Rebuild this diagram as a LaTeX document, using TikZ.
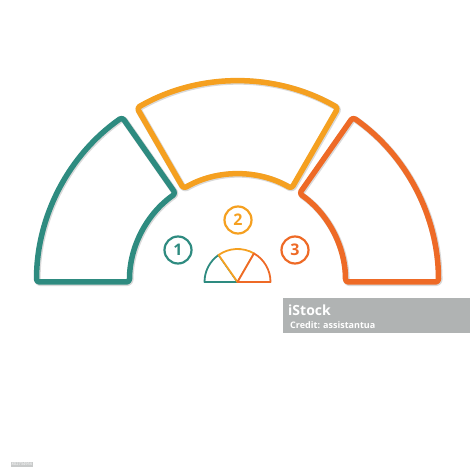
\documentclass[tikz,border=0pt]{standalone}
\usepackage{fontspec}
\setmainfont{Open Sans}
\definecolor{tealseg}{RGB}{46,139,128}
\definecolor{orangeseg}{RGB}{245,160,32}
\definecolor{redseg}{RGB}{238,106,38}
\definecolor{markgray}{RGB}{176,179,179}
\begin{document}
\begin{tikzpicture}[x=1pt, y=1pt,
    segment/.style={line width=5.5pt, rounded corners=3pt, line join=round},
    segshadow/.style={line width=6.5pt, rounded corners=3pt, line join=round, black, opacity=0.15},
    wedge/.style={line width=1.8pt, line join=round, fill=white},
    numcircle/.style={circle, draw, line width=2.2pt, minimum size=27pt, inner sep=0pt,
      font=\fontsize{16}{16}\selectfont\bfseries}]
    \useasboundingbox (0,0) rectangle (474,474);
    \begin{scope}[shift={(237.5,192)}]
      % Drawing the three big segments
      \foreach \a/\b/\c in {180/125/tealseg, 120/60/orangeseg, 55/0/redseg} {
        \draw [segshadow, shift={(0.8,-0.8)}] (\a:201) arc [start angle=\a, end angle=\b, radius=201]
          -- (\b:108) arc [start angle=\b, end angle=\a, radius=108] -- cycle;
        \draw [segment, \c] (\a:201) arc [start angle=\a, end angle=\b, radius=201]
          -- (\b:108) arc [start angle=\b, end angle=\a, radius=108] -- cycle;
      }
      % Drawing the small half circle
      \foreach \a/\b/\c in {180/125/tealseg, 125/60/orangeseg, 60/0/redseg} {
        \draw [\c, wedge] (0,0) -- (\a:33) arc [start angle=\a, end angle=\b, radius=33] -- cycle;
      }
    \end{scope}
    % Drawing the numbers
    \node (num1) [numcircle, tealseg] at (178,224) {1};
    \node (num2) [numcircle, orangeseg] at (238,254) {2};
    \node (num3) [numcircle, redseg] at (295,224) {3};
    % Drawing the stock marks
    \fill [markgray] (283,141) rectangle (470,176);
    \node (stocklogo) [anchor=west, white, inner sep=0pt, font=\fontsize{14}{14}\selectfont\bfseries] at (288,164) {iStock};
    \node (stockcredit) [anchor=west, white, inner sep=0pt, font=\fontsize{9}{9}\selectfont\bfseries] at (290,149) {Credit: assistantua};
    \node (stockid) [fill=markgray!70, text=white, inner sep=0.8pt, font=\fontsize{4}{4}\selectfont] at (22,9.5) {802734956};
\end{tikzpicture}
\end{document}
